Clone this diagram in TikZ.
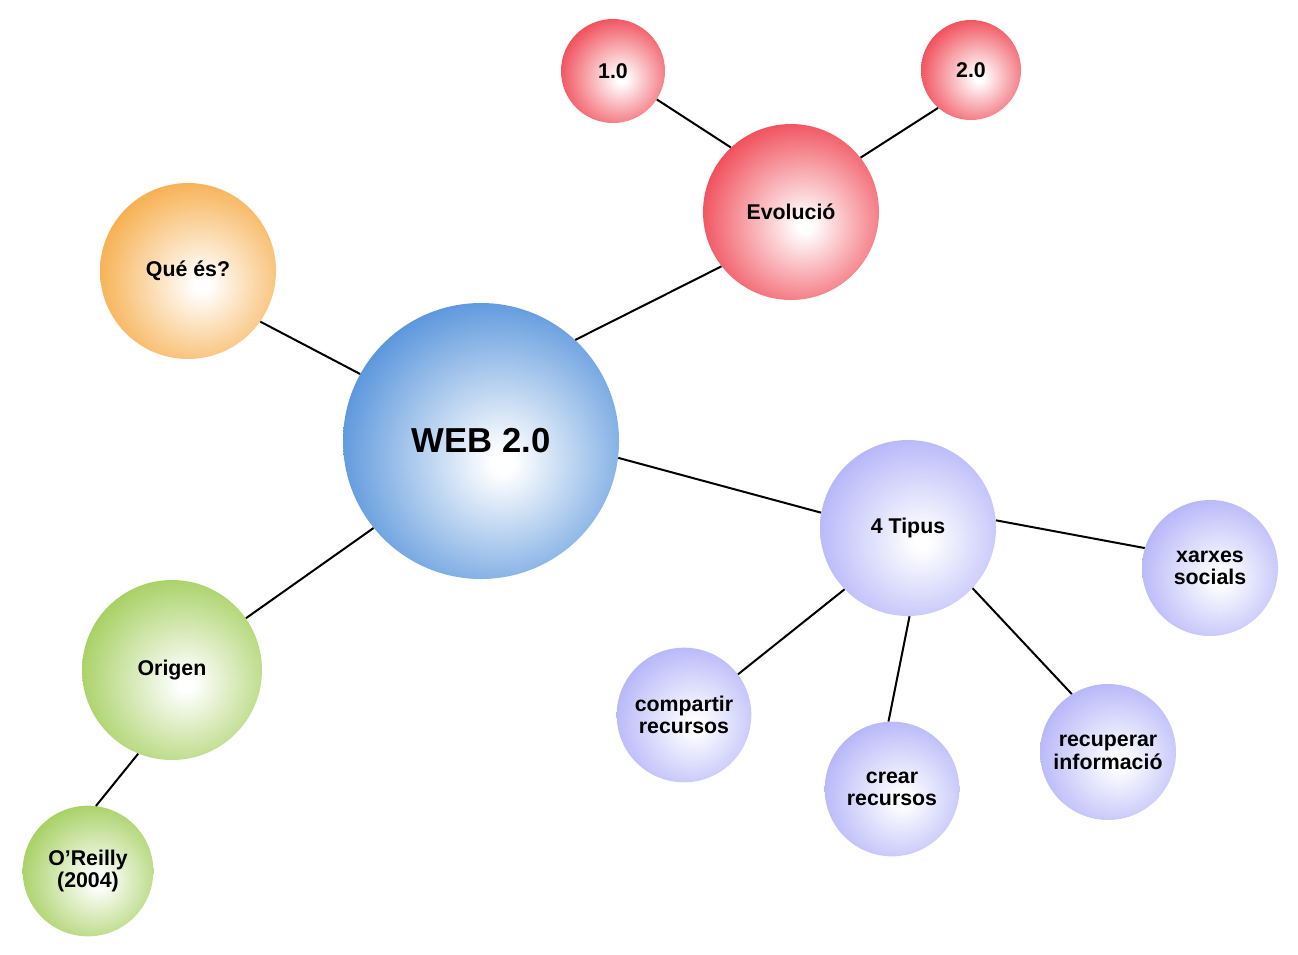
\documentclass[tikz,border=0pt]{standalone}
\usepackage{fontspec}
\setmainfont{Liberation Sans}
\definecolor{cblue}{RGB}{62,132,214}
\definecolor{corange}{RGB}{245,162,50}
\definecolor{cred}{RGB}{238,48,62}
\definecolor{cgreen}{RGB}{152,200,72}
\definecolor{clav}{RGB}{170,170,248}
\pgfdeclareradialshading{sblue}{\pgfpoint{4bp}{-4bp}}{color(0bp)=(white); color(2bp)=(white); color(34bp)=(cblue); color(100bp)=(cblue)}
\pgfdeclareradialshading{sorange}{\pgfpoint{4bp}{-4bp}}{color(0bp)=(white); color(2bp)=(white); color(34bp)=(corange); color(100bp)=(corange)}
\pgfdeclareradialshading{sred}{\pgfpoint{4bp}{-4bp}}{color(0bp)=(white); color(2bp)=(white); color(34bp)=(cred); color(100bp)=(cred)}
\pgfdeclareradialshading{sgreen}{\pgfpoint{4bp}{-4bp}}{color(0bp)=(white); color(2bp)=(white); color(34bp)=(cgreen); color(100bp)=(cgreen)}
\pgfdeclareradialshading{slav}{\pgfpoint{4bp}{-4bp}}{color(0bp)=(white); color(2bp)=(white); color(34bp)=(clav); color(100bp)=(clav)}
\begin{document}
\begin{tikzpicture}[x=0.75pt,y=-0.75pt,
  b/.style={circle,draw=none,inner sep=0pt,align=center,font=\bfseries\fontsize{16}{16}\selectfont},
  link/.style={line width=1.5pt}]
\useasboundingbox (0,0) rectangle (1298,954);
\node[b,shading=sblue,minimum size=207pt,font=\bfseries\fontsize{26}{28}\selectfont] (web) at (481,441) {WEB 2.0};
\node[b,shading=sorange,minimum size=132pt] (que) at (188,271) {Qué és?};
\node[b,shading=sred,minimum size=132pt] (evo) at (791,212) {Evolució};
\node[b,shading=sred,minimum size=78pt] (u) at (613,71) {1.0};
\node[b,shading=sred,minimum size=75pt] (d) at (971,70) {2.0};
\node[b,shading=slav,minimum size=132pt] (tip) at (908,528) {4 Tipus};
\node[b,shading=slav,minimum size=102pt] (xar) at (1210,568) {xarxes\\[1pt]socials};
\node[b,shading=slav,minimum size=101pt] (com) at (684,715) {compartir\\[1pt]recursos};
\node[b,shading=slav,minimum size=101pt] (cre) at (892,789) {crear\\[1pt]recursos};
\node[b,shading=slav,minimum size=102pt] (rec) at (1108,752) {recuperar\\[1pt]informació};
\node[b,shading=sgreen,minimum size=135pt] (ori) at (172,670) {Origen};
\node[b,shading=sgreen,minimum size=98pt] (ore) at (88,871) {O'Reilly\\[1pt](2004)};
\draw[link] (web.151) -- (que.325);
\draw[link] (web.47) -- (evo.218);
\draw[link] (evo.133) -- (u.327);
\draw[link] (evo.38) -- (d.229);
\draw[link] (web.353) -- (tip.170);
\draw[link] (web.219) -- (ori.35);
\draw[link] (ori.248) -- (ore.83);
\draw[link] (tip.5) -- (xar.163);
\draw[link] (tip.224) -- (com.37);
\draw[link] (tip.271) -- (cre.93);
\draw[link] (tip.317) -- (rec.122);
\end{tikzpicture}
\end{document}
